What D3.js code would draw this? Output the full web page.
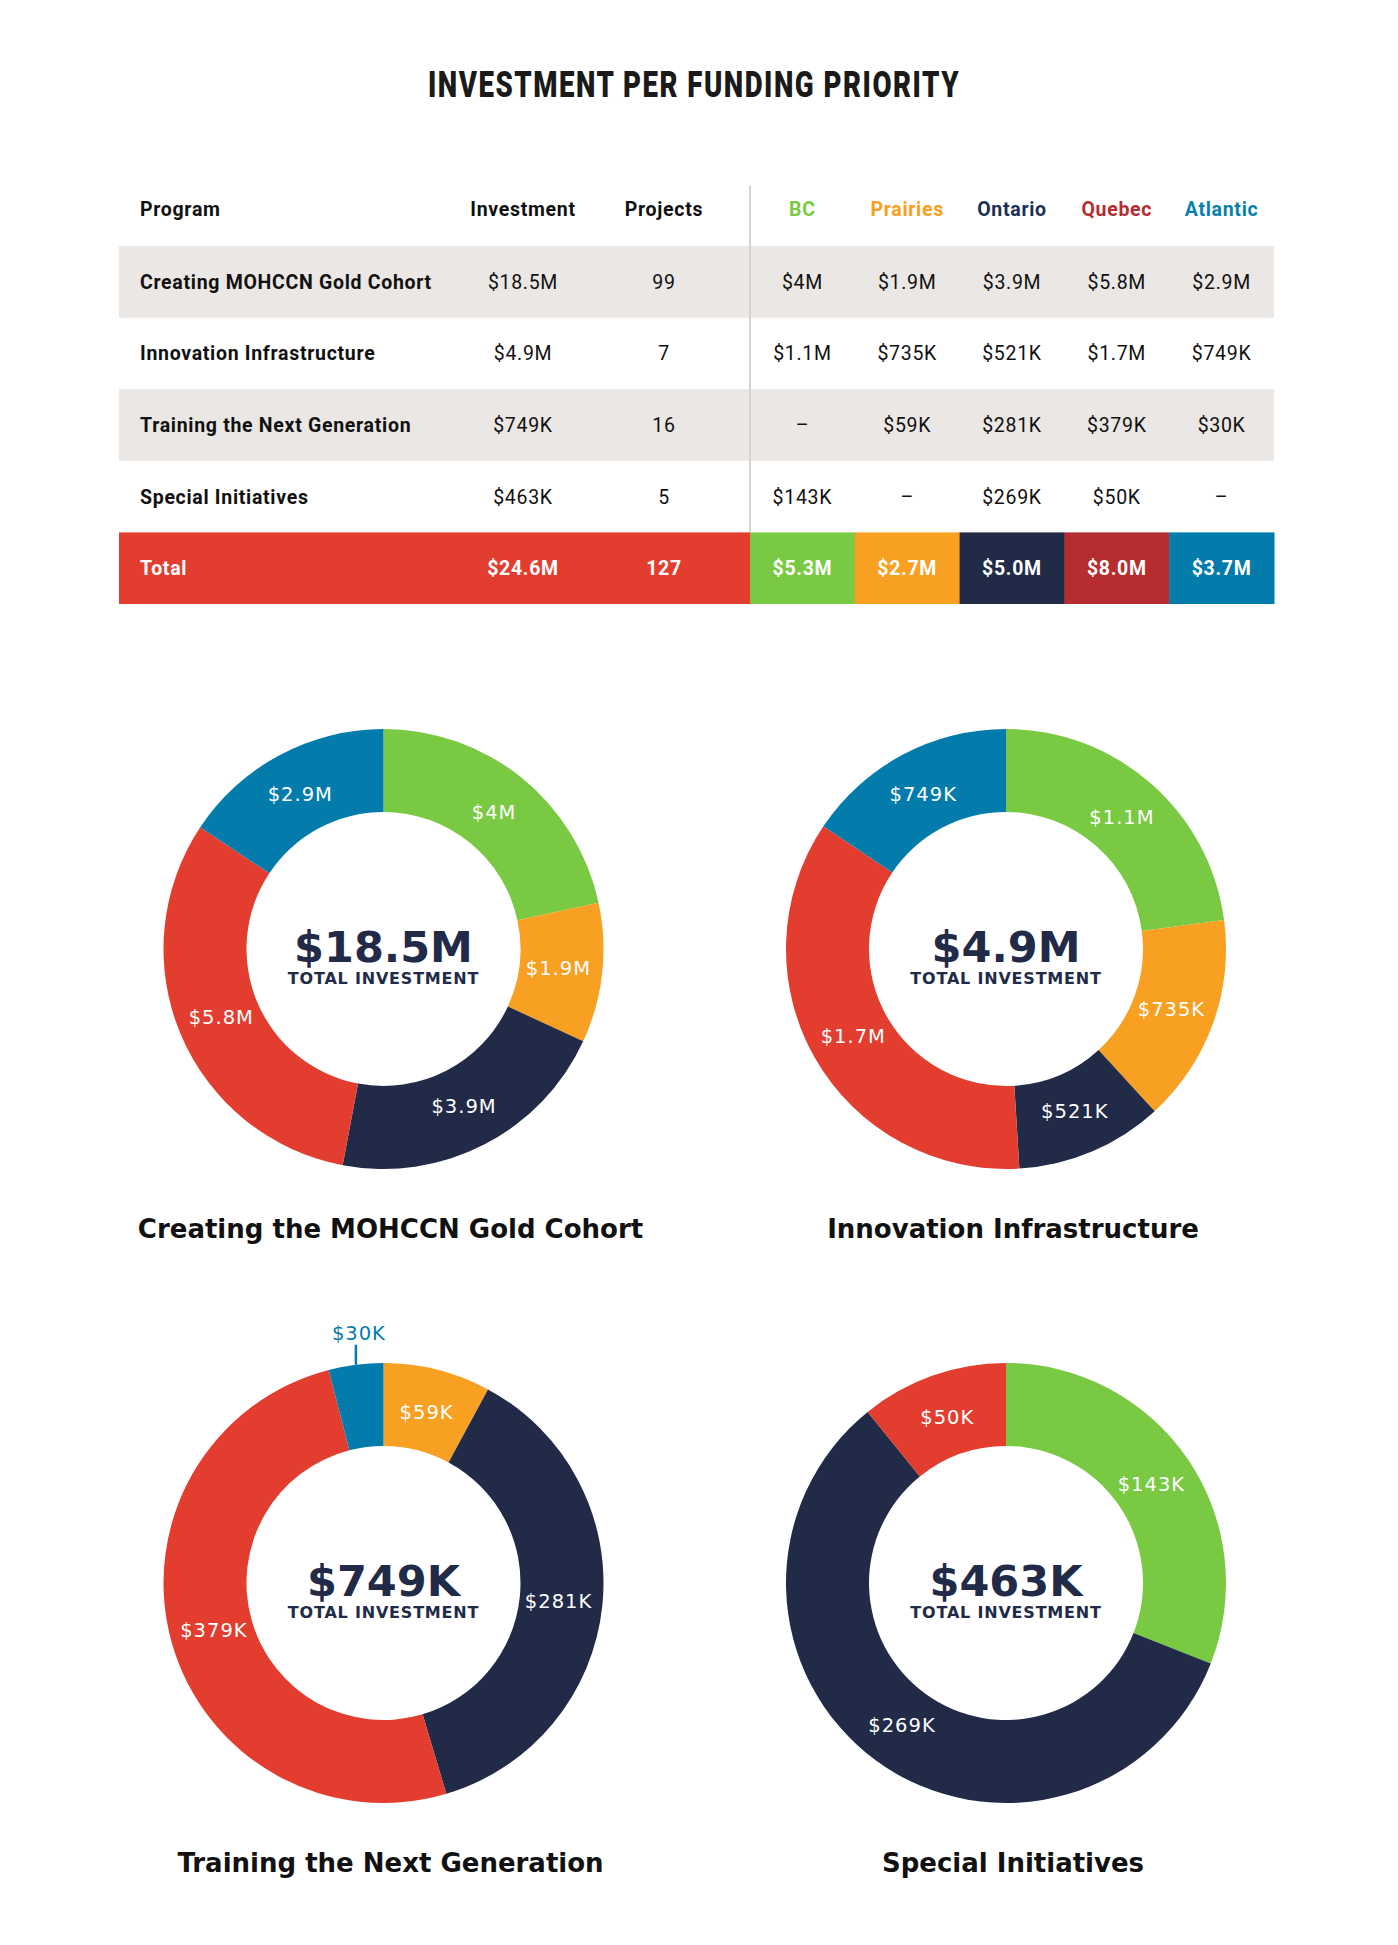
<!DOCTYPE html>
<html>
<head>
<meta charset="utf-8">
<script src="https://d3js.org/d3.v7.min.js"></script>
<style>
	body { margin: 0; background: #fff; }
	svg { display: block; }
</style>
</head>
<body>
<svg id="chart"></svg>
<script>
'use strict'

// data (region values in $K, 0 = no funding)
const regions = ['BC', 'Prairies', 'Ontario', 'Quebec', 'Atlantic']
const programs = ['Creating MOHCCN Gold Cohort', 'Innovation Infrastructure', 'Training the Next Generation', 'Special Initiatives']
const investment = ['$18.5M', '$4.9M', '$749K', '$463K']
const projects = [99, 7, 16, 5]
const goldCohort = [4000, 1900, 3900, 5800, 2900]
const innovation = [1100, 735, 521, 1700, 749]
const training = [0, 59, 281, 379, 30]
const special = [143, 0, 269, 50, 0]
const totalInvestment = '$24.6M'
const totalProjects = 127
const regionTotals = ['$5.3M', '$2.7M', '$5.0M', '$8.0M', '$3.7M']
const donutTitles = ['Creating the MOHCCN Gold Cohort', 'Innovation Infrastructure', 'Training the Next Generation', 'Special Initiatives']

const regionValues = [goldCohort, innovation, training, special]

const width = 1398
const height = 1945
const headerColors = ['#7AC943', '#F7A021', '#1B2F55', '#B52D2F', '#0780B0']
const totalColors = ['#7AC943', '#F7A021', '#212A47', '#B52D2F', '#037CAC']
const donutColors = ['#7AC943', '#F7A021', '#212A47', '#E33D30', '#037CAC']
const tableFont = 'Roboto, "Liberation Sans", sans-serif'
const wideFont = '"DejaVu Sans", Verdana, sans-serif'

const fmt = (v) => v === 0 ? '–' : (v >= 1000 ? '$' + (v / 1000) + 'M' : '$' + v + 'K')

const svg = d3.select('#chart')
	.attr('width', width)
	.attr('height', height)

// title
svg.append('text')
	.attr('x', 694)
	.attr('y', 97)
	.attr('text-anchor', 'middle')
	.attr('font-family', tableFont)
	.attr('font-weight', 900)
	.attr('font-size', 37)
	.attr('textLength', 532)
	.attr('lengthAdjust', 'spacingAndGlyphs')
	.attr('letter-spacing', 2)
	.attr('fill', '#1a1a1a')
	.text('INVESTMENT PER FUNDING PRIORITY')

// table scales
const tableLeft = 119
const tableRight = 1274
const divider = 750
const rowY = d3.scaleBand().domain(programs.concat(['Total'])).range([246, 604])
const regionX = d3.scaleBand().domain(regions).range([divider, tableRight])
const colX = { program: 140, investment: 523, projects: 664 }
const mid = (key) => rowY(key) + rowY.bandwidth() / 2

const table = svg.append('g')
	.attr('font-family', tableFont)
	.attr('font-size', 19.5)
	.attr('letter-spacing', 0.7)

// striped rows
table.selectAll('rect.stripe')
	.data(programs.filter((d, i) => i % 2 === 0))
	.enter().append('rect')
	.attr('class', 'stripe')
	.attr('x', tableLeft)
	.attr('y', (d) => rowY(d))
	.attr('width', tableRight - tableLeft)
	.attr('height', rowY.bandwidth())
	.attr('fill', '#EAE7E4')

// vertical divider
table.append('line')
	.attr('x1', divider).attr('x2', divider)
	.attr('y1', 186).attr('y2', rowY('Total'))
	.attr('stroke', '#D6D3D0')
	.attr('stroke-width', 2)

// total row cells
table.append('rect')
	.attr('x', tableLeft)
	.attr('y', rowY('Total'))
	.attr('width', divider - tableLeft)
	.attr('height', rowY.bandwidth())
	.attr('fill', '#E33D30')
table.selectAll('rect.total')
	.data(regions)
	.enter().append('rect')
	.attr('class', 'total')
	.attr('x', (d) => regionX(d))
	.attr('y', rowY('Total'))
	.attr('width', regionX.bandwidth() + 0.5)
	.attr('height', rowY.bandwidth())
	.attr('fill', (d, i) => totalColors[i])

// header
const headerY = 216
const header = table.append('g').attr('font-weight', 700)
header.append('text').attr('x', colX.program).attr('y', headerY).attr('fill', '#111').text('Program')
header.append('text').attr('x', colX.investment).attr('y', headerY).attr('text-anchor', 'middle').attr('fill', '#111').text('Investment')
header.append('text').attr('x', colX.projects).attr('y', headerY).attr('text-anchor', 'middle').attr('fill', '#111').text('Projects')
header.selectAll('text.region')
	.data(regions)
	.enter().append('text')
	.attr('class', 'region')
	.attr('x', (d) => regionX(d) + regionX.bandwidth() / 2)
	.attr('y', headerY)
	.attr('text-anchor', 'middle')
	.attr('fill', (d, i) => headerColors[i])
	.text((d) => d)

// body rows
programs.forEach((p, i) => {
	const y = mid(p) + 7
	table.append('text').attr('x', colX.program).attr('y', y).attr('font-weight', 700).attr('fill', '#111').text(p)
	table.append('text').attr('x', colX.investment).attr('y', y).attr('text-anchor', 'middle').attr('fill', '#111').text(investment[i])
	table.append('text').attr('x', colX.projects).attr('y', y).attr('text-anchor', 'middle').attr('fill', '#111').text(projects[i])
	table.selectAll(null)
		.data(regionValues[i])
		.enter().append('text')
		.attr('x', (d, j) => regionX(regions[j]) + regionX.bandwidth() / 2)
		.attr('y', y)
		.attr('text-anchor', 'middle')
		.attr('fill', '#111')
		.text((d) => fmt(d))
})

// total row text
const totalY = mid('Total') + 7
const totals = table.append('g').attr('font-weight', 700).attr('fill', '#fff')
totals.append('text').attr('x', colX.program).attr('y', totalY).text('Total')
totals.append('text').attr('x', colX.investment).attr('y', totalY).attr('text-anchor', 'middle').text(totalInvestment)
totals.append('text').attr('x', colX.projects).attr('y', totalY).attr('text-anchor', 'middle').text(totalProjects)
totals.selectAll(null)
	.data(regionTotals)
	.enter().append('text')
	.attr('x', (d, j) => regionX(regions[j]) + regionX.bandwidth() / 2)
	.attr('y', totalY)
	.attr('text-anchor', 'middle')
	.text((d) => d)

// donuts
const outerR = 220
const innerR = 137
const labelR = 176
const centersX = [383.5, 1006]
const centersY = [949, 1583]

const pie = d3.pie().sort(null).value((d) => d)
const arc = d3.arc().innerRadius(innerR).outerRadius(outerR)
const labelArc = d3.arc().innerRadius(labelR).outerRadius(labelR)

regionValues.forEach((values, k) => {
	const cx = centersX[k % 2]
	const cy = centersY[Math.floor(k / 2)]
	const g = svg.append('g').attr('transform', 'translate(' + cx + ',' + cy + ')')
	const slices = pie(values)

	g.selectAll('path')
		.data(slices)
		.enter().append('path')
		.attr('d', arc)
		.attr('fill', (d) => donutColors[d.index])

	// labels inside the ring, small slices get a label outside with a tick
	const shown = slices.filter((d) => d.value > 0)
	const inside = shown.filter((d) => d.endAngle - d.startAngle > 0.3)
	const outside = shown.filter((d) => d.endAngle - d.startAngle <= 0.3)

	g.selectAll('text.slice')
		.data(inside)
		.enter().append('text')
		.attr('class', 'slice')
		.attr('transform', (d) => 'translate(' + labelArc.centroid(d) + ')')
		.attr('dy', '0.36em')
		.attr('text-anchor', 'middle')
		.attr('font-family', wideFont)
		.attr('font-size', 19.5)
		.attr('letter-spacing', 1)
		.attr('fill', '#fff')
		.text((d) => fmt(d.value))

	outside.forEach((d) => {
		const a = (d.startAngle + d.endAngle) / 2
		const x = outerR * Math.sin(a)
		const yEdge = -Math.sqrt(outerR * outerR - x * x)
		g.append('line')
			.attr('x1', x).attr('x2', x)
			.attr('y1', yEdge).attr('y2', yEdge - 20)
			.attr('stroke', donutColors[d.index])
			.attr('stroke-width', 2.5)
		g.append('text')
			.attr('x', x + 3)
			.attr('y', yEdge - 25)
			.attr('text-anchor', 'middle')
			.attr('font-family', wideFont)
			.attr('font-size', 19.5)
			.attr('letter-spacing', 1)
			.attr('fill', donutColors[d.index])
			.text(fmt(d.value))
	})

	// centre total
	g.append('text')
		.attr('y', 13)
		.attr('text-anchor', 'middle')
		.attr('font-family', wideFont)
		.attr('font-weight', 700)
		.attr('font-size', 43)
		.attr('fill', '#212A47')
		.text(investment[k])
	g.append('text')
		.attr('y', 35)
		.attr('text-anchor', 'middle')
		.attr('font-family', wideFont)
		.attr('font-weight', 700)
		.attr('font-size', 16)
		.attr('letter-spacing', 0.8)
		.attr('fill', '#212A47')
		.text('TOTAL INVESTMENT')

	// caption
	g.append('text')
		.attr('x', 7)
		.attr('y', 289)
		.attr('text-anchor', 'middle')
		.attr('font-family', wideFont)
		.attr('font-weight', 700)
		.attr('font-size', 26)
		.attr('fill', '#111')
		.text(donutTitles[k])
})
</script>
</body>
</html>
